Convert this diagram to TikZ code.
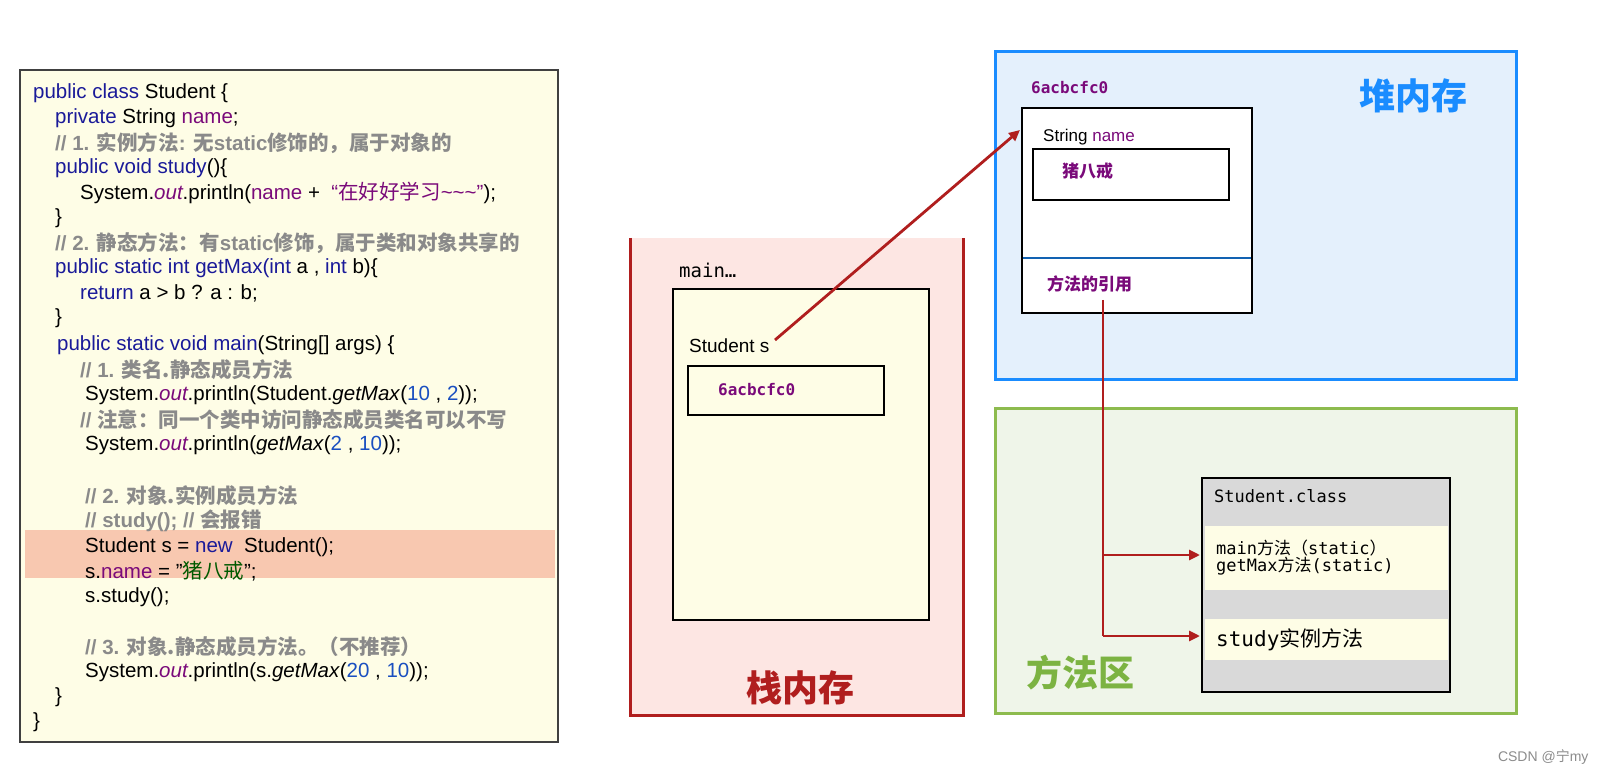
\documentclass[tikz,border=0pt]{standalone}
\usepackage{fontspec}
\setmainfont{Liberation Sans}
\newfontfamily\cjk{Noto Sans CJK SC}
\newfontfamily\mono{DejaVu Sans Mono}
\usetikzlibrary{arrows.meta}
\definecolor{kw}{HTML}{1A1A99}
\definecolor{vr}{HTML}{7A0A7A}
\definecolor{cm}{HTML}{8A8A8A}
\definecolor{nm}{HTML}{1A4FC0}
\definecolor{ar}{HTML}{B01E1E}
\definecolor{hb}{HTML}{1A8CFF}
\definecolor{hf}{HTML}{E4F0FC}
\definecolor{gb}{HTML}{8DBB4E}
\definecolor{gf}{HTML}{EFF5E9}
\definecolor{gt}{HTML}{7CB342}
\definecolor{sf}{HTML}{FDE6E3}
\definecolor{iv}{HTML}{FEFDE6}
\definecolor{hl}{HTML}{F8C8B0}
\newcommand{\cc}[1]{{\cjk #1}}
\newcommand{\cmt}[1]{\textcolor{cm}{\bfseries #1}}
\begin{document}
\begin{tikzpicture}[x=1pt,y=-1pt,
 code/.style={anchor=west,font=\fontsize{20.5}{20.5}\selectfont,inner sep=0pt},
 mtxt/.style={anchor=west,font=\mono\fontsize{17}{17}\selectfont,inner sep=0pt},
 big/.style={font=\cjk\bfseries\fontsize{36}{36}\selectfont},
 arr/.style={draw=ar,line width=2.8pt,-{Triangle[length=11pt,width=10pt]}}]
\useasboundingbox (0,0) rectangle (1599,767);
\fill[white] (0,0) rectangle (1599,767);
% code panel
\draw[fill=iv,draw=black!75,line width=1.3pt] (20,70) rectangle (558,742);
\fill[hl] (25,530) rectangle (555,578);
\node[code] (c1) at (33,93) {\textcolor{kw}{public class} Student \{};
\node[code] (c2) at (55,118) {\textcolor{kw}{private} String \textcolor{vr}{name};};
\node[code] (c3) at (55,143) {\cmt{// 1. \cc{实例方法}: \cc{无}static\cc{修饰的，属于对象的}}};
\node[code] (c4) at (55,168) {\textcolor{kw}{public void study}()\{};
\node[code] (c5) at (80,193) {System.\textcolor{vr}{\itshape out}.println(\textcolor{vr}{name} +\ \ \textcolor{vr}{“\cc{在好好学习}\textasciitilde\textasciitilde\textasciitilde”});};
\node[code] (c6) at (55,218) {\}};
\node[code] (c7) at (55,243) {\cmt{// 2. \cc{静态方法：有}static\cc{修饰，属于类和对象共享的}}};
\node[code] (c8) at (55,268) {\textcolor{kw}{public static int getMax(int} a , \textcolor{kw}{int} b)\{};
\node[code] (c9) at (80,293) {\textcolor{kw}{return} a > b ? a : b;};
\node[code] (c10) at (55,318) {\}};
\node[code] (c11) at (57,345) {\textcolor{kw}{public static void main}(String[] args) \{};
\node[code] (c12) at (80,370) {\cmt{// 1. \cc{类名.静态成员方法}}};
\node[code] (c13) at (85,395) {System.\textcolor{vr}{\itshape out}.println(Student.\textit{getMax}(\textcolor{nm}{10} , \textcolor{nm}{2}));};
\node[code] (c14) at (80,420) {\cmt{// \cc{注意：同一个类中访问静态成员类名可以不写}}};
\node[code] (c15) at (85,445) {System.\textcolor{vr}{\itshape out}.println(\textit{getMax}(\textcolor{nm}{2} , \textcolor{nm}{10}));};
\node[code] (c16) at (85,496) {\cmt{// 2. \cc{对象.实例成员方法}}};
\node[code] (c17) at (85,521) {\cmt{// study(); // \cc{会报错}}};
\node[code] (c18) at (85,547) {Student s = \textcolor{kw}{new}\ \ Student();};
\node[code] (c19) at (85,571) {s.\textcolor{vr}{name} = "\textcolor{green!35!black}{\cc{猪八戒}}";};
\node[code] (c20) at (85,597) {s.study();};
\node[code] (c21) at (85,647) {\cmt{// 3. \cc{对象.静态成员方法。（不推荐）}}};
\node[code] (c22) at (85,672) {System.\textcolor{vr}{\itshape out}.println(s.\textit{getMax}(\textcolor{nm}{20} , \textcolor{nm}{10}));};
\node[code] (c23) at (55,697) {\}};
\node[code] (c24) at (33,722) {\}};
% stack
\fill[sf] (630,238) rectangle (963,715);
\draw[ar,line width=3pt] (630,238) -- (630,715) -- (963,715) -- (963,238);
\node[mtxt,font=\mono\fontsize{19}{19}\selectfont] (mainlbl) at (679,270) {main…};
\draw[fill=iv,draw=black,line width=1.3pt] (673,289) rectangle (929,620);
\node[code,font=\fontsize{19}{19}\selectfont] (sv) at (689,346) {Student s};
\draw[line width=2pt] (688,366) rectangle (884,415);
\node[mtxt,font=\mono\bfseries\fontsize{16}{16}\selectfont,text=vr] (addr1) at (718,390) {6acbcfc0};
\node[big,text=ar] (stk) at (800,688) {栈内存};
% heap
\draw[fill=hf,draw=hb,line width=3pt] (995,52) rectangle (1516,380);
\node[mtxt,font=\mono\bfseries\fontsize{16}{16}\selectfont,text=vr] (addr2) at (1031,88) {6acbcfc0};
\node[big,text=hb] (heap) at (1413,96) {堆内存};
\draw[fill=white,line width=2.2pt] (1022,108) rectangle (1252,313);
\node[code,font=\fontsize{17}{17}\selectfont] (sn) at (1043,137) {String \textcolor{vr}{name}};
\draw[line width=2.2pt] (1033,149) rectangle (1229,200);
\node[code,font=\cjk\bfseries\fontsize{17}{17}\selectfont,text=vr] (bj) at (1062,171) {猪八戒};
\draw[hb!70!black,line width=2.5pt] (1023,258) -- (1251,258);
\node[code,font=\cjk\bfseries\fontsize{17}{17}\selectfont,text=vr] (ref) at (1047,284) {方法的引用};
% method area
\draw[fill=gf,draw=gb,line width=3pt] (995,408) rectangle (1516,713);
\node[big,text=gt] (ma) at (1080,673) {方法区};
\draw[fill=black!15,line width=1.8pt] (1202,478) rectangle (1450,692);
\node[mtxt] (scls) at (1214,496) {Student.class};
\fill[iv] (1205,526) rectangle (1448,590);
\node[mtxt,align=left] (m1) at (1216,558) {main\cc{方法（}static\cc{）}\\getMax\cc{方法}(static)};
\fill[iv] (1205,619) rectangle (1448,660);
\node[mtxt,font=\mono\fontsize{21}{21}\selectfont] (m2) at (1216,640) {study\cc{实例方法}};
% arrows
\coordinate (sEnd) at (775,340);
\draw[arr] (sEnd) -- (1020,130);
\coordinate (rTop) at (1103,300);
\coordinate (rB1) at (1103,555);
\coordinate (rB2) at (1103,636);
\draw[ar,line width=2.8pt] (rTop) -- (rB2);
\draw[arr] (rB1) -- (1200,555);
\draw[arr] (rB2) -- (1200,636);
\node[anchor=east,text=black!45,font=\fontsize{14}{14}\selectfont] (wm) at (1592,757) {CSDN @\cc{宁}my};
\end{tikzpicture}
\end{document}
